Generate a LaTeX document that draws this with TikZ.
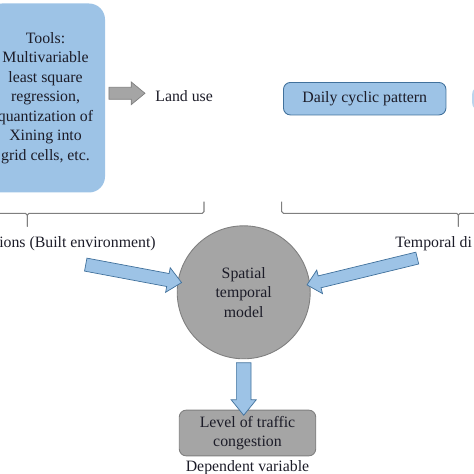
\documentclass[tikz,border=0pt]{standalone}
\usepackage{fontspec}
\setmainfont{Liberation Serif}
\usepackage{tikz}
\usetikzlibrary{shapes.geometric, shapes.arrows, arrows, positioning, calc}

\definecolor{boxblue}{HTML}{9DC3E6}
\definecolor{edgeblue}{HTML}{41719C}
\definecolor{modelgray}{HTML}{A5A5A5}
\definecolor{edgegray}{HTML}{7F7F7F}
\definecolor{inkdark}{HTML}{1C1C28}

\begin{document}
\begin{tikzpicture}[font=\fontsize{9}{11.1}\selectfont, text=inkdark,
            toolbox/.style={rectangle, rounded corners=0.32cm, minimum width=2.38cm, minimum height=3.78cm, fill=boxblue, align=center, inner sep=0pt},
            patternbox/.style={rectangle, rounded corners=0.14cm, minimum width=3.25cm, minimum height=0.65cm, draw=edgeblue, line width=0.5pt, fill=boxblue},
            modelnode/.style={circle, minimum size=2.66cm, draw=edgegray, line width=0.5pt, fill=modelgray, align=center},
            resultbox/.style={rectangle, rounded corners=0.14cm, minimum width=2.73cm, minimum height=0.88cm, draw=edgegray, line width=0.5pt, fill=modelgray, align=center},
            sidetext/.style={inner sep=0pt},
            blockarrow/.style={single arrow, draw=edgeblue, line width=0.4pt, fill=boxblue, inner xsep=0pt, inner ysep=0.125cm, single arrow head extend=0.118cm, single arrow tip angle=84, sloped, allow upside down},
            grayarrow/.style={blockarrow, draw=edgegray, fill=modelgray, inner ysep=0.113cm, single arrow head extend=0.107cm, single arrow tip angle=79},
            bracket/.style={draw=edgegray, line width=0.6pt, rounded corners=1pt}]

            \useasboundingbox (0,0) rectangle (9.48,-9.48);
            \clip (0,0) rectangle (9.48,-9.48);

            % Row 1
            \node (tools) [toolbox] at (0.91,-1.96) {Tools:\\Multivariable\\least square\\regression,\\quantization of\\Xining into\\grid cells, etc.};
            \node (landuse) [sidetext, anchor=west] at (3.10,-1.92) {Land use};
            \node (daily) [patternbox] at (7.294,-1.974) {Daily cyclic pattern};
            \node (next) [patternbox, anchor=west, draw=none, fill=boxblue!70, minimum height=0.46cm] at (9.434,-1.97) {};

            % Row 2
            \draw [bracket] (-3,-4.034) |- (0.546,-4.266) -- (0.546,-4.534);
            \draw [bracket] (4.08,-4.034) |- (0.546,-4.266) -- (0.546,-4.534);
            \draw [bracket] (5.634,-4.034) |- (9.166,-4.266) -- (9.166,-4.534);
            \draw [bracket] (12.7,-4.034) |- (9.166,-4.266) -- (9.166,-4.534);
            \node (spatial) [sidetext, anchor=east] at (3.12,-4.88) {ions (Built environment)};
            \node (temporal) [sidetext, anchor=west] at (7.90,-4.88) {Temporal di};

            % Row 3
            \node (model) [modelnode] at (4.874,-5.846) {Spatial\\temporal\\model};
            \node (congestion) [resultbox] at (4.95,-8.66) {Level of traffic\\congestion};
            \node (dependent) [sidetext, below=0.08cm of congestion] {Dependent variable};

            % Connections
            \coordinate (spatialtail) at (1.65,-5.28);
            \coordinate (temporaltail) at (8.41,-5.146);
            \path ($(tools.east)+(0,0.094)$) -- ++(0.72,0) node[midway, grayarrow, minimum height=0.72cm] {};
            \path (spatialtail) -- (model.171) node[midway, blockarrow, minimum height=1.95cm] {};
            \path (temporaltail) -- (model.7) node[midway, blockarrow, minimum height=2.27cm, inner ysep=0.115cm, single arrow head extend=0.12cm, single arrow tip angle=86] {};
            \path (model.south) -- (model.south |- congestion.north) node[midway, blockarrow, minimum height=1.05cm, inner ysep=0.14cm, single arrow head extend=0.103cm, single arrow tip angle=78] {};
        \end{tikzpicture}
\end{document}
